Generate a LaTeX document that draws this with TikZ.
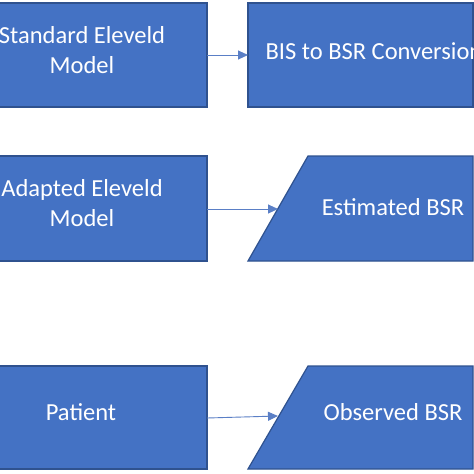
\documentclass[tikz,border=0pt]{standalone}
\usepackage{fontspec}
\setmainfont{Carlito}
\usetikzlibrary{arrows.meta}
\definecolor{boxfill}{HTML}{4472C4}
\definecolor{boxline}{HTML}{2F528F}
\definecolor{arrowc}{HTML}{5A7FC6}
\tikzset{
  shapebox/.style={fill=boxfill,draw=boxline,line width=1.2pt},
  lbl/.style={text=white,font=\fontsize{24.5}{30}\selectfont,align=center,inner sep=0pt},
  conn/.style={draw=arrowc,line width=0.9pt,-{Triangle[length=10pt,width=9pt]}}
}
\begin{document}
\begin{tikzpicture}[x=1pt,y=-1pt]
\useasboundingbox (0,0) rectangle (474,474);
\clip (0,0) rectangle (474,474);
\fill[white] (0,0) rectangle (474,474);
% shapes
\draw[shapebox] (-43,3) rectangle (207,107);
\draw[shapebox] (248,3) rectangle (473,107);
\draw[shapebox] (-43,156) rectangle (207,261);
\draw[shapebox] (248,261) -- (308,156) -- (473,156) -- (473,261) -- cycle;
\draw[shapebox] (-43,366) rectangle (207,469);
\draw[shapebox] (248,469) -- (308,366) -- (473,366) -- (473,469) -- cycle;
% labels
\node[lbl] (std) at (82,50) {Standard Eleveld\\Model};
\node[lbl] (bis) at (374,51) {BIS to BSR Conversion};
\node[lbl] (ada) at (82,203) {Adapted Eleveld\\Model};
\node[lbl] (est) at (393,207) {Estimated BSR};
\node[lbl] (pat) at (81,412) {Patient};
\node[lbl] (obs) at (393,412) {Observed BSR};
% connector anchor coordinates
\coordinate (stdR) at (207,55);
\coordinate (bisL) at (248,55);
\coordinate (adaR) at (207,209);
\coordinate (estL) at (278,209);
\coordinate (patR) at (207,418);
\coordinate (obsL) at (278,416);
\draw[conn] (stdR) -- (bisL);
\draw[conn] (adaR) -- (estL);
\draw[conn] (patR) -- (obsL);
\end{tikzpicture}
\end{document}
